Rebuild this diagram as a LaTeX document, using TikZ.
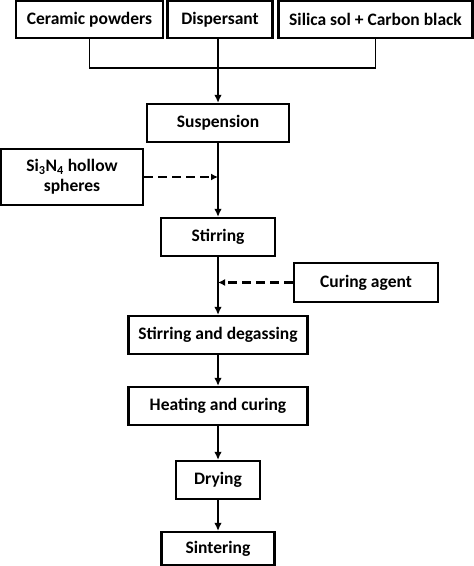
\documentclass[tikz,border=0pt]{standalone}
\usepackage{fontspec}
\setmainfont{Carlito}
\usetikzlibrary{arrows.meta}
\begin{document}
\begin{tikzpicture}[x=1pt,y=-1pt,
  box/.style={draw, line width=2.2pt, inner sep=0pt, align=center,
    font=\fontsize{17.5}{20}\selectfont\bfseries},
  conn/.style={line width=1.6pt},
  arr/.style={conn, -{Latex[length=8pt,width=7.5pt]}},
  darr/.style={arr, line width=2.4pt, dash pattern=on 9pt off 5pt, -{Latex[length=7pt,width=7pt]}}]
\useasboundingbox (0,0) rectangle (474,566);
\node[box, minimum width=147pt, minimum height=37pt] (cer) at (89.5,19.5) {Ceramic powders};
\node[box, minimum width=105pt, minimum height=37pt] (disp) at (220,19.5) {Dispersant};
\node[box, minimum width=194pt, minimum height=37pt] (sil) at (375.5,19.5) {Silica sol + Carbon black};
\node[box, minimum width=142pt, minimum height=38pt] (susp) at (218,123) {Suspension};
\node[box, minimum width=142pt, minimum height=56pt] (sin) at (72,177) {Si\textsubscript{3}N\textsubscript{4} hollow\\spheres};
\node[box, minimum width=114pt, minimum height=38pt] (stir) at (218,237) {Stirring};
\node[box, minimum width=144pt, minimum height=39pt] (cur) at (366,282.5) {Curing agent};
\node[box, minimum width=179pt, minimum height=38pt] (sd) at (218,335) {Stirring and degassing};
\node[box, minimum width=179pt, minimum height=38pt] (hc) at (218,406) {Heating and curing};
\node[box, minimum width=84pt, minimum height=38pt] (dry) at (218,480) {Drying};
\node[box, minimum width=113pt, minimum height=33pt] (sint) at (218,548.5) {Sintering};
\coordinate (j) at (218,68);
\draw[conn] (cer.south) |- (j) -| (sil.south);
\draw[arr] (susp.north |- disp.south) -- (susp.north);
\draw[arr] (susp) -- (stir);
\draw[darr] (sin.east) -- (sin.east -| susp.south);
\draw[arr] (stir) -- (sd);
\draw[darr] (cur.west) -- (cur.west -| stir.south);
\draw[arr] (sd) -- (hc);
\draw[arr] (hc) -- (dry);
\draw[arr] (dry) -- (sint);
\end{tikzpicture}
\end{document}
